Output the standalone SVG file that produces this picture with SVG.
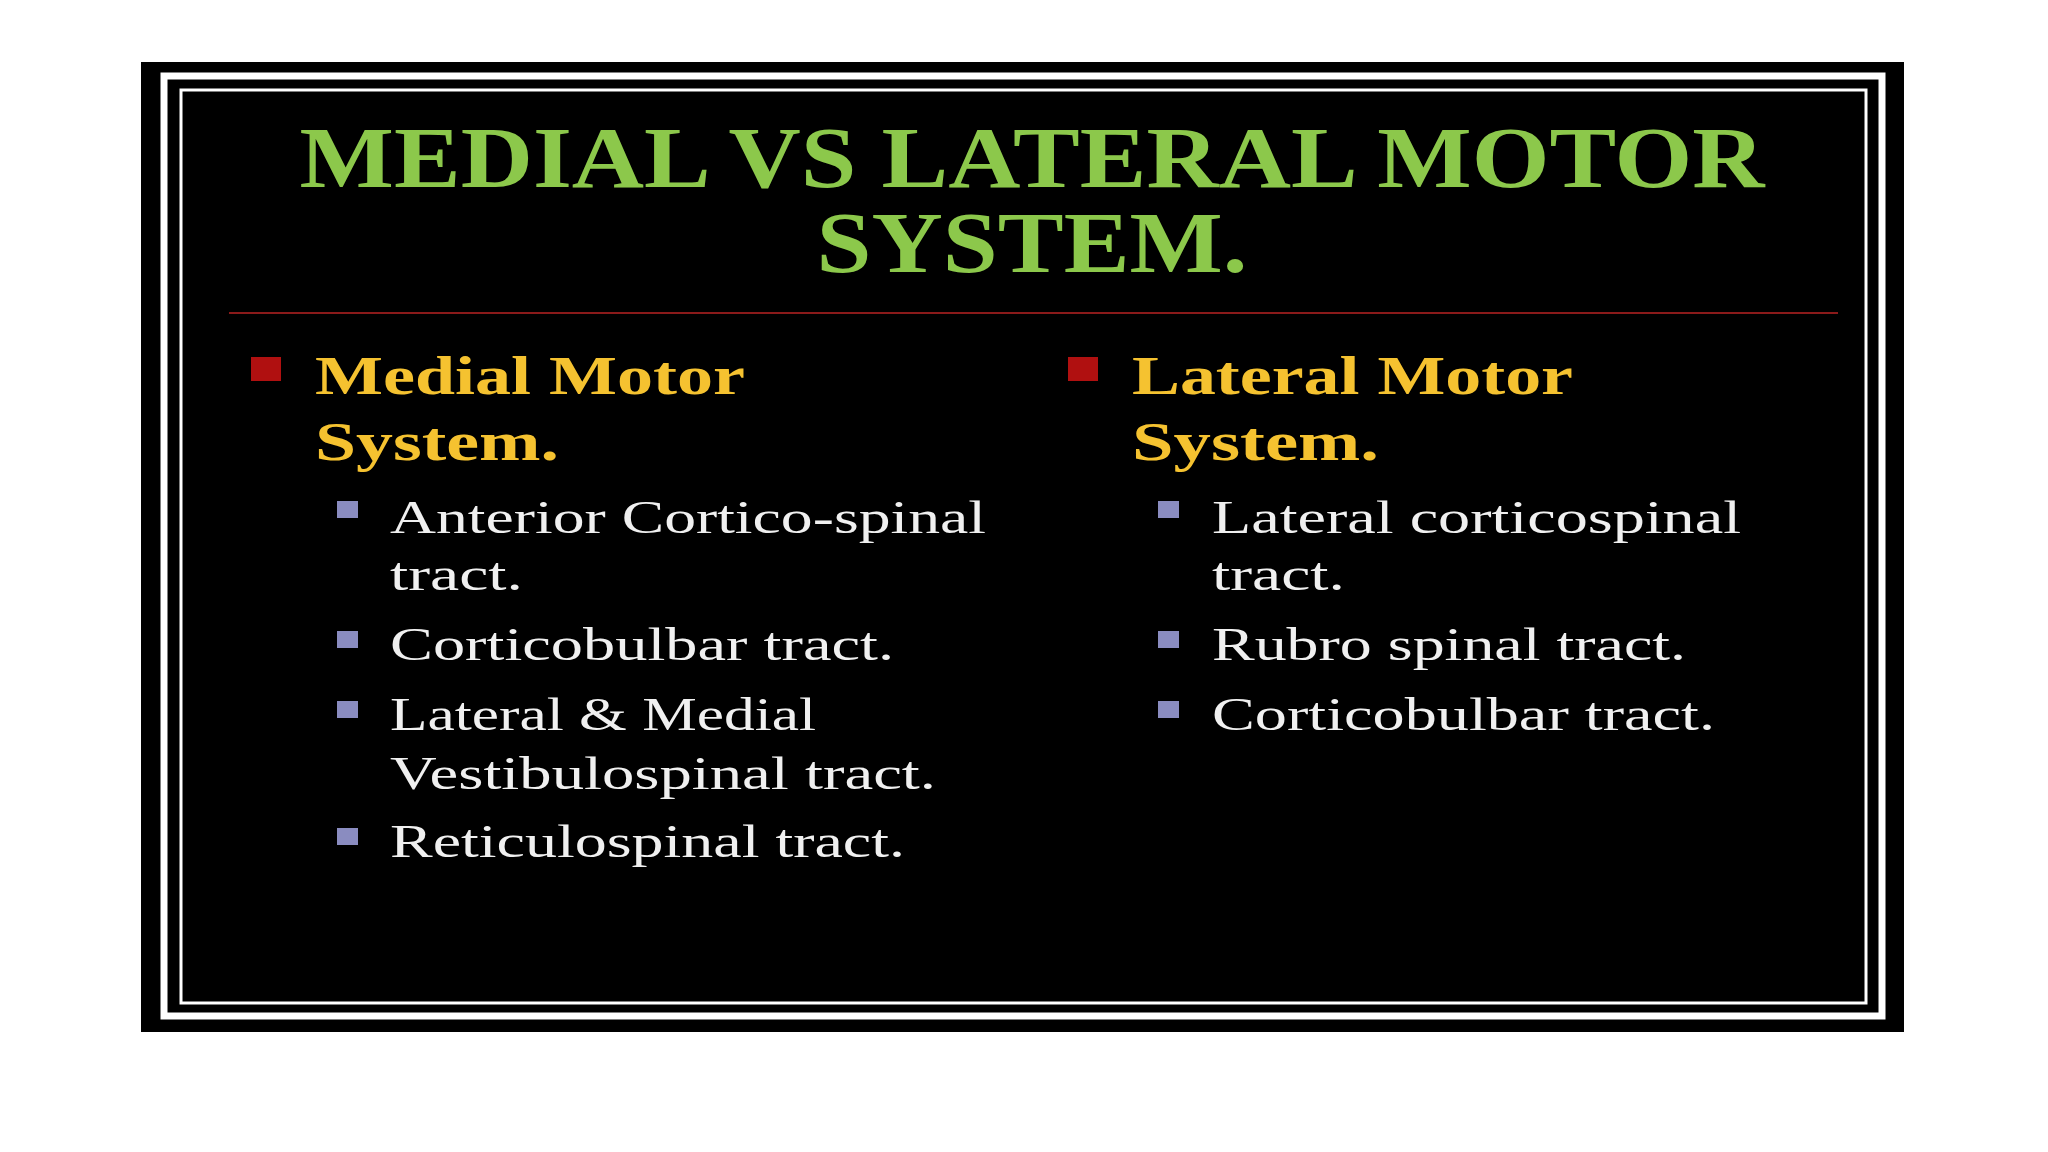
<svg xmlns="http://www.w3.org/2000/svg" width="2048" height="1152" viewBox="0 0 2048 1152">
<style>
.t{font-family:"Liberation Serif","DejaVu Serif",serif;font-weight:bold;fill:#8cc84b;font-size:86px;text-anchor:middle}
.h{font-family:"Liberation Serif","DejaVu Serif",serif;font-weight:bold;fill:#f5c230;font-size:54px}
.s{font-family:"Liberation Serif","DejaVu Serif",serif;fill:#f0f0f0;font-size:47px}
.rb{fill:#b01010}.sb{fill:#8a8cc0}
</style>
<rect width="2048" height="1152" fill="#fff"/>
<g id="frame">
<rect x="141" y="62" width="1763" height="970" fill="#000"/>
<rect x="164" y="76" width="1718" height="940" fill="none" stroke="#fff" stroke-width="7"/>
<rect x="181" y="90" width="1685" height="913" fill="none" stroke="#fff" stroke-width="3"/>
</g>
<g id="title">
<text class="t" x="1032" y="187" textLength="1465" lengthAdjust="spacingAndGlyphs">MEDIAL VS LATERAL MOTOR</text>
<text class="t" x="1032" y="272" textLength="431" lengthAdjust="spacingAndGlyphs">SYSTEM.</text>
<rect x="229" y="312" width="1609" height="2" fill="#8b1a1a"/>
</g>
<g id="medial">
<rect class="rb" x="251" y="357" width="30" height="24"/>
<text class="h" x="315" y="394" textLength="430" lengthAdjust="spacingAndGlyphs">Medial Motor</text>
<text class="h" x="315" y="460" textLength="244" lengthAdjust="spacingAndGlyphs">System.</text>
<rect class="sb" x="337" y="501" width="21" height="17"/>
<text class="s" x="390" y="533" textLength="596" lengthAdjust="spacingAndGlyphs">Anterior Cortico-spinal</text>
<text class="s" x="390" y="590" textLength="133" lengthAdjust="spacingAndGlyphs">tract.</text>
<rect class="sb" x="337" y="631" width="21" height="17"/>
<text class="s" x="390" y="660" textLength="504" lengthAdjust="spacingAndGlyphs">Corticobulbar tract.</text>
<rect class="sb" x="337" y="701" width="21" height="17"/>
<text class="s" x="390" y="730" textLength="426" lengthAdjust="spacingAndGlyphs">Lateral &amp; Medial</text>
<text class="s" x="390" y="789" textLength="546" lengthAdjust="spacingAndGlyphs">Vestibulospinal tract.</text>
<rect class="sb" x="337" y="828" width="21" height="17"/>
<text class="s" x="390" y="857" textLength="515" lengthAdjust="spacingAndGlyphs">Reticulospinal tract.</text>
</g>
<g id="lateral">
<rect class="rb" x="1068" y="357" width="30" height="24"/>
<text class="h" x="1132" y="394" textLength="441" lengthAdjust="spacingAndGlyphs">Lateral Motor</text>
<text class="h" x="1132" y="460" textLength="247" lengthAdjust="spacingAndGlyphs">System.</text>
<rect class="sb" x="1158" y="501" width="21" height="17"/>
<text class="s" x="1212" y="533" textLength="529" lengthAdjust="spacingAndGlyphs">Lateral corticospinal</text>
<text class="s" x="1212" y="590" textLength="133" lengthAdjust="spacingAndGlyphs">tract.</text>
<rect class="sb" x="1158" y="631" width="21" height="17"/>
<text class="s" x="1212" y="660" textLength="474" lengthAdjust="spacingAndGlyphs">Rubro spinal tract.</text>
<rect class="sb" x="1158" y="701" width="21" height="17"/>
<text class="s" x="1212" y="730" textLength="503" lengthAdjust="spacingAndGlyphs">Corticobulbar tract.</text>
</g>
</svg>
